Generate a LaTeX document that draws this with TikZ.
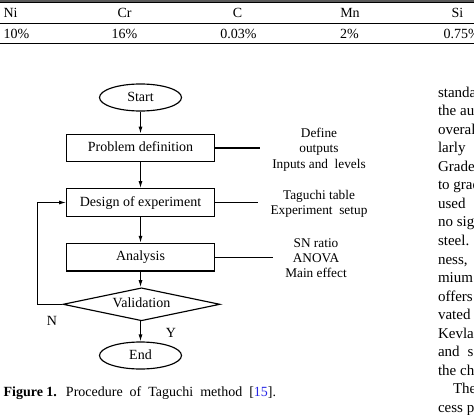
\documentclass[tikz,border=0pt]{standalone}
\usepackage{fontspec}
\setmainfont{Liberation Serif}
\usetikzlibrary{arrows.meta,shapes.geometric}
\definecolor{linkblue}{RGB}{40,40,230}
\begin{document}
\begin{tikzpicture}[x=1pt,y=-1pt,
  line width=1.15pt,
  arr/.style={-{Latex[length=7pt,width=4pt]}},
  flow/.style={draw=black,line width=1.15pt,inner sep=0pt,
    font=\fontsize{14}{16}\selectfont,text height=9.5pt,text depth=2.5pt},
  procbox/.style={flow,rectangle,minimum width=147.5pt,minimum height=27.5pt},
  term/.style={flow,ellipse,minimum width=82pt,minimum height=27pt},
  decide/.style={flow,diamond,aspect=4.7,minimum width=157pt,minimum height=33pt},
  anno/.style={align=center,inner sep=0pt,font=\fontsize{13.3}{15.3}\selectfont},
  lbl/.style={inner sep=0pt,font=\fontsize{14}{16}\selectfont},
  tab/.style={inner sep=0pt,anchor=base,font=\fontsize{14}{16}\selectfont},
  body/.style={inner sep=0pt,anchor=base west,font=\fontsize{15}{18}\selectfont},
  captext/.style={inner sep=0pt,anchor=base west,font=\fontsize{14}{16}\selectfont}
]
\useasboundingbox (0,0) rectangle (474,415);
\clip (0,0) rectangle (474,415);
\fill[white] (0,0) rectangle (474,415);

% table fragment
\fill[black!65] (0,0) rectangle (474,2.8);
\draw[line width=0.6pt] (0,2.6) -- (474,2.6);
\draw[line width=1pt] (0,23.5) -- (474,23.5);
\draw[line width=1.3pt] (0,43.5) -- (474,43.5);
\node[tab,anchor=base west] (hNi) at (3,17.8) {Ni};
\node[tab] (hCr) at (124.5,17.8) {Cr};
\node[tab] (hC) at (237.5,17.8) {C};
\node[tab] (hMn) at (350,17.8) {Mn};
\node[tab] (hSi) at (457.5,17.8) {Si};
\node[tab,anchor=base west] (vNi) at (3,38) {10\%};
\node[tab] (vCr) at (124.5,38) {16\%};
\node[tab] (vC) at (238.5,38) {0.03\%};
\node[tab] (vMn) at (349.5,38) {2\%};
\node[tab,anchor=base west] (vSi) at (443,38) {0.75\%};

% flowchart
\node[term] (start) at (140.5,97.5) {Start};
\node[procbox] (prob) at (140.5,148) {Problem definition};
\node[procbox] (design) at (140.5,202.5) {Design of experiment};
\node[procbox] (anal) at (140.5,257.2) {Analysis};
\node[decide] (valid) at (141.5,304.3) {Validation};
\node[term] (end) at (140.5,355.5) {End};

\draw[arr] (start) -- (prob);
\draw[arr] (prob) -- (design);
\draw[arr] (design) -- (anal);
\draw[arr] (anal) -- (valid.north -| anal);
\draw[arr] (valid.south -| end) -- (end);

\coordinate (loopA) at (37.7,304.3);
\coordinate (loopB) at (37.7,202.5);
\draw[arr] (valid.west) -- (loopA) -- (loopB) -- (design.west);

\node[lbl] (lN) at (52,320.5) {N};
\node[lbl] (lY) at (171,332.5) {Y};

% annotations
\coordinate (e1) at (260,148);
\coordinate (e2) at (258,202.5);
\coordinate (e3) at (273,257.2);
\draw (prob.east) -- (e1);
\draw (design.east) -- (e2);
\draw (anal.east) -- (e3);
\node[anno] (t1) at (319,149.5) {Define\\outputs\\Inputs and\ \ levels};
\node[anno] (t2) at (319,204) {Taguchi table\\Experiment\ \ setup};
\node[anno] (t3) at (316,258) {SN ratio\\ANOVA\\Main effect};

% caption
\node[captext] (caption) at (3,396.5) {\textbf{Figure 1.}\hspace{9pt}Procedure\hspace{7pt}of\hspace{7pt}Taguchi\hspace{7pt}method\hspace{7pt}[\textcolor{linkblue}{15}].};

% right text column (cut off)
\node[body] (r1) at (437.5,97) {standard};
\node[body] (r2) at (437.5,115.5) {the authors};
\node[body] (r3) at (437.5,134) {overall};
\node[body] (r4) at (437.5,152.6) {larly};
\node[body] (r5) at (437.5,171.2) {Grade};
\node[body] (r6) at (437.5,189.7) {to grade};
\node[body] (r7) at (437.5,208.3) {used};
\node[body] (r8) at (437.5,226.8) {no significant};
\node[body] (r9) at (437.5,245.4) {steel.};
\node[body] (r10) at (437.5,264) {ness,};
\node[body] (r11) at (437.5,282.5) {mium};
\node[body] (r12) at (437.5,301) {offers};
\node[body] (r13) at (437.5,319.6) {vated};
\node[body] (r14) at (437.5,338.2) {Kevlar};
\node[body] (r15) at (437.5,356.7) {and\hspace{8pt}so};
\node[body] (r16) at (437.5,375.3) {the chosen};
\node[body] (r17) at (452.5,393.8) {The};
\node[body] (r18) at (437.5,412.4) {cess para};
\end{tikzpicture}
\end{document}
